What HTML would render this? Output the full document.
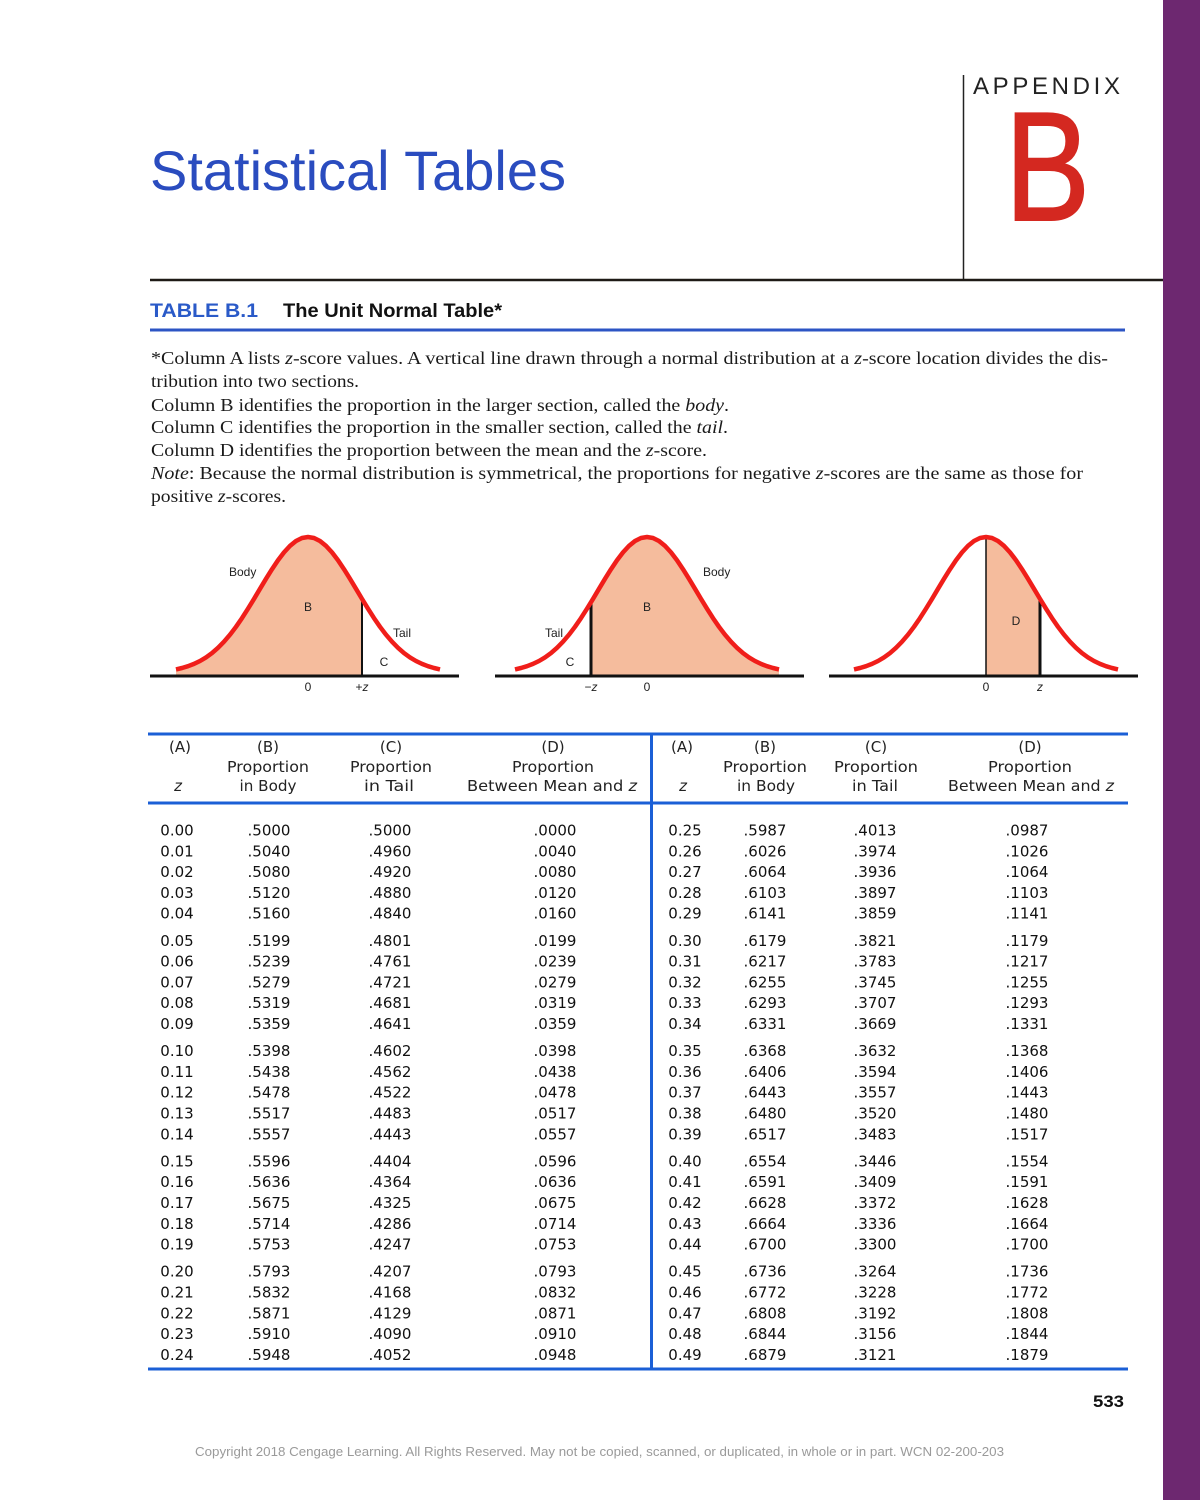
<!DOCTYPE html>
<html><head><meta charset="utf-8"><style>
html,body{margin:0;padding:0;background:#fff;}
svg{display:block;}
.t{font-family:"DejaVu Sans","Liberation Sans",sans-serif;font-size:15px;fill:#111;}
.h{font-family:"DejaVu Sans","Liberation Sans",sans-serif;font-size:15px;fill:#222;text-anchor:middle;}
.p{font-family:"Liberation Serif",serif;font-size:18px;fill:#1a1a1a;}
.lb{font-family:"Liberation Sans",sans-serif;font-size:12px;fill:#222;}
</style></head><body>
<svg width="1200" height="1500" viewBox="0 0 1200 1500" xmlns="http://www.w3.org/2000/svg">
<rect x="0" y="0" width="1200" height="1500" fill="#fff"/>
<rect x="1163" y="0" width="37" height="1500" fill="#6d2870"/>

<!-- Header -->
<text x="150" y="190" font-family="Liberation Sans, sans-serif" font-size="56" fill="#2a4cbf" textLength="416" lengthAdjust="spacingAndGlyphs">Statistical Tables</text>
<line x1="963.5" y1="75" x2="963.5" y2="280" stroke="#222" stroke-width="1.5"/>
<text x="973" y="94" font-family="Liberation Sans, sans-serif" font-size="24" fill="#222" textLength="147" lengthAdjust="spacing">APPENDIX</text>
<text x="1005" y="220" font-family="Liberation Sans, sans-serif" font-size="155" fill="#d42820" stroke="#d42820" stroke-width="2" textLength="85" lengthAdjust="spacingAndGlyphs">B</text>
<line x1="150" y1="280" x2="1163" y2="280" stroke="#1e1a16" stroke-width="2.5"/>

<text x="150" y="317" font-family="Liberation Sans, sans-serif" font-size="19" font-weight="bold" fill="#2a5ac8" textLength="108" lengthAdjust="spacingAndGlyphs">TABLE B.1</text>
<text x="283" y="317" font-family="Liberation Sans, sans-serif" font-size="19" font-weight="bold" fill="#111" textLength="219" lengthAdjust="spacingAndGlyphs">The Unit Normal Table*</text>
<line x1="150" y1="330" x2="1125" y2="330" stroke="#2c55c4" stroke-width="3"/>

<!-- Paragraph -->
<text class="p" x="151" y="364" textLength="957" lengthAdjust="spacingAndGlyphs">*Column A lists <tspan font-style="italic">z</tspan>-score values. A vertical line drawn through a normal distribution at a <tspan font-style="italic">z</tspan>-score location divides the dis-</text>
<text class="p" x="151" y="387" textLength="208" lengthAdjust="spacingAndGlyphs">tribution into two sections.</text>
<text class="p" x="151" y="411" textLength="578" lengthAdjust="spacingAndGlyphs">Column B identifies the proportion in the larger section, called the <tspan font-style="italic">body</tspan>.</text>
<text class="p" x="151" y="433" textLength="577" lengthAdjust="spacingAndGlyphs">Column C identifies the proportion in the smaller section, called the <tspan font-style="italic">tail</tspan>.</text>
<text class="p" x="151" y="456" textLength="556" lengthAdjust="spacingAndGlyphs">Column D identifies the proportion between the mean and the <tspan font-style="italic">z</tspan>-score.</text>
<text class="p" x="151" y="479" textLength="932" lengthAdjust="spacingAndGlyphs"><tspan font-style="italic">Note</tspan>:  Because the normal distribution is symmetrical, the proportions for negative <tspan font-style="italic">z</tspan>-scores are the same as those for</text>
<text class="p" x="151" y="502" textLength="135" lengthAdjust="spacingAndGlyphs">positive <tspan font-style="italic">z</tspan>-scores.</text>

<!-- Curves -->
<defs>
<path id="curve" d="M-132,669.4 L-126,668 L-120,666.2 L-114,663.9 L-108,661 L-102,657.4 L-96,653.1 L-90,647.8 L-84,641.7 L-78,634.7 L-72,626.8 L-66,618.1 L-60,608.7 L-54,598.9 L-48,588.8 L-42,578.8 L-36,569.2 L-30,560.2 L-24,552.4 L-18,545.9 L-12,541 L-6,538 L0,537 L6,538 L12,541 L18,545.9 L24,552.4 L30,560.2 L36,569.2 L42,578.8 L48,588.8 L54,598.9 L60,608.7 L66,618.1 L72,626.8 L78,634.7 L84,641.7 L90,647.8 L96,653.1 L102,657.4 L108,661 L114,663.9 L120,666.2 L126,668 L132,669.4"/>
</defs>

<!-- Panel 1 -->
<g transform="translate(308,0)">
<path d="M-132,676 L-132,669.4 L-126,668 L-120,666.2 L-114,663.9 L-108,661 L-102,657.4 L-96,653.1 L-90,647.8 L-84,641.7 L-78,634.7 L-72,626.8 L-66,618.1 L-60,608.7 L-54,598.9 L-48,588.8 L-42,578.8 L-36,569.2 L-30,560.2 L-24,552.4 L-18,545.9 L-12,541 L-6,538 L0,537 L6,538 L12,541 L18,545.9 L24,552.4 L30,560.2 L36,569.2 L42,578.8 L48,588.8 L54,598.9 L54,676 Z" fill="#f5bc9d"/>
<line x1="54" y1="600" x2="54" y2="676" stroke="#111" stroke-width="2"/>
<use href="#curve" fill="none" stroke="#f01e1a" stroke-width="4.5" stroke-linejoin="round"/>
</g>
<line x1="150" y1="676" x2="459" y2="676" stroke="#111" stroke-width="3"/>
<text class="lb" x="229" y="576">Body</text>
<text class="lb" x="308" y="611" text-anchor="middle" font-size="11">B</text>
<text class="lb" x="393" y="637">Tail</text>
<text class="lb" x="384" y="666" text-anchor="middle">C</text>
<text class="lb" x="308" y="691" text-anchor="middle" font-size="11">0</text>
<text class="lb" x="362" y="691" text-anchor="middle" font-size="11">+<tspan font-style="italic">z</tspan></text>

<!-- Panel 2 -->
<g transform="translate(647,0)">
<path d="M-56,676 L-56,602.2 L-54,598.9 L-48,588.8 L-42,578.8 L-36,569.2 L-30,560.2 L-24,552.4 L-18,545.9 L-12,541 L-6,538 L0,537 L6,538 L12,541 L18,545.9 L24,552.4 L30,560.2 L36,569.2 L42,578.8 L48,588.8 L54,598.9 L60,608.7 L66,618.1 L72,626.8 L78,634.7 L84,641.7 L90,647.8 L96,653.1 L102,657.4 L108,661 L114,663.9 L120,666.2 L126,668 L132,669.4 L132,676 Z" fill="#f5bc9d"/>
<line x1="-56" y1="603" x2="-56" y2="676" stroke="#111" stroke-width="3"/>
<use href="#curve" fill="none" stroke="#f01e1a" stroke-width="4.5" stroke-linejoin="round"/>
</g>
<line x1="495" y1="676" x2="804" y2="676" stroke="#111" stroke-width="3"/>
<text class="lb" x="545" y="637">Tail</text>
<text class="lb" x="570" y="666" text-anchor="middle">C</text>
<text class="lb" x="703" y="576">Body</text>
<text class="lb" x="647" y="611" text-anchor="middle" font-size="11">B</text>
<text class="lb" x="591" y="691" text-anchor="middle" font-size="11">−<tspan font-style="italic">z</tspan></text>
<text class="lb" x="647" y="691" text-anchor="middle" font-size="11">0</text>

<!-- Panel 3 -->
<g transform="translate(986,0)">
<path d="M0,676 L0,537 L6,538 L12,541 L18,545.9 L24,552.4 L30,560.2 L36,569.2 L42,578.8 L48,588.8 L54,598.9 L54,676 Z" fill="#f5bc9d"/>
<line x1="0" y1="538" x2="0" y2="676" stroke="#111" stroke-width="1.5"/>
<line x1="54" y1="600" x2="54" y2="676" stroke="#111" stroke-width="3"/>
<use href="#curve" fill="none" stroke="#f01e1a" stroke-width="4.5" stroke-linejoin="round"/>
</g>
<line x1="829" y1="676" x2="1138" y2="676" stroke="#111" stroke-width="3"/>
<text class="lb" x="1016" y="625" text-anchor="middle">D</text>
<text class="lb" x="986" y="691" text-anchor="middle" font-size="11">0</text>
<text class="lb" x="1040" y="691" text-anchor="middle" font-size="11" font-style="italic">z</text>

<!-- Table lines -->
<line x1="148" y1="734" x2="1128" y2="734" stroke="#1b5fd6" stroke-width="3"/>
<line x1="148" y1="803" x2="1128" y2="803" stroke="#1b5fd6" stroke-width="3"/>
<line x1="148" y1="1369" x2="1128" y2="1369" stroke="#1b5fd6" stroke-width="3"/>
<line x1="651.5" y1="733" x2="651.5" y2="1370" stroke="#1b5fd6" stroke-width="3"/>

<!-- Table header -->
<text class="h" y="752"><tspan x="180">(A)</tspan><tspan x="268">(B)</tspan><tspan x="391">(C)</tspan><tspan x="553">(D)</tspan><tspan x="682">(A)</tspan><tspan x="765">(B)</tspan><tspan x="876">(C)</tspan><tspan x="1030">(D)</tspan></text>
<text class="h" x="268" y="772" textLength="82" lengthAdjust="spacingAndGlyphs">Proportion</text>
<text class="h" x="391" y="772" textLength="82" lengthAdjust="spacingAndGlyphs">Proportion</text>
<text class="h" x="553" y="772" textLength="82" lengthAdjust="spacingAndGlyphs">Proportion</text>
<text class="h" x="765" y="772" textLength="84" lengthAdjust="spacingAndGlyphs">Proportion</text>
<text class="h" x="876" y="772" textLength="84" lengthAdjust="spacingAndGlyphs">Proportion</text>
<text class="h" x="1030" y="772" textLength="84" lengthAdjust="spacingAndGlyphs">Proportion</text>
<text class="h" x="178" y="791" font-style="italic">z</text>
<text class="h" x="268" y="791" textLength="57" lengthAdjust="spacingAndGlyphs">in Body</text>
<text class="h" x="389" y="791" textLength="50" lengthAdjust="spacingAndGlyphs">in Tail</text>
<text class="h" x="552" y="791" textLength="170" lengthAdjust="spacingAndGlyphs">Between Mean and <tspan font-style="italic">z</tspan></text>
<text class="h" x="683" y="791" font-style="italic">z</text>
<text class="h" x="766" y="791" textLength="58" lengthAdjust="spacingAndGlyphs">in Body</text>
<text class="h" x="875" y="791" textLength="46" lengthAdjust="spacingAndGlyphs">in Tail</text>
<text class="h" x="1031" y="791" textLength="166" lengthAdjust="spacingAndGlyphs">Between Mean and <tspan font-style="italic">z</tspan></text>

<!-- Table data -->
<g class="t" text-anchor="middle">
<text y="835.5"><tspan x="177">0.00</tspan><tspan x="269">.5000</tspan><tspan x="390">.5000</tspan><tspan x="555">.0000</tspan><tspan x="685">0.25</tspan><tspan x="765">.5987</tspan><tspan x="875">.4013</tspan><tspan x="1027">.0987</tspan></text>
<text y="856.3"><tspan x="177">0.01</tspan><tspan x="269">.5040</tspan><tspan x="390">.4960</tspan><tspan x="555">.0040</tspan><tspan x="685">0.26</tspan><tspan x="765">.6026</tspan><tspan x="875">.3974</tspan><tspan x="1027">.1026</tspan></text>
<text y="877.1"><tspan x="177">0.02</tspan><tspan x="269">.5080</tspan><tspan x="390">.4920</tspan><tspan x="555">.0080</tspan><tspan x="685">0.27</tspan><tspan x="765">.6064</tspan><tspan x="875">.3936</tspan><tspan x="1027">.1064</tspan></text>
<text y="897.9"><tspan x="177">0.03</tspan><tspan x="269">.5120</tspan><tspan x="390">.4880</tspan><tspan x="555">.0120</tspan><tspan x="685">0.28</tspan><tspan x="765">.6103</tspan><tspan x="875">.3897</tspan><tspan x="1027">.1103</tspan></text>
<text y="918.7"><tspan x="177">0.04</tspan><tspan x="269">.5160</tspan><tspan x="390">.4840</tspan><tspan x="555">.0160</tspan><tspan x="685">0.29</tspan><tspan x="765">.6141</tspan><tspan x="875">.3859</tspan><tspan x="1027">.1141</tspan></text>

<text y="945.8"><tspan x="177">0.05</tspan><tspan x="269">.5199</tspan><tspan x="390">.4801</tspan><tspan x="555">.0199</tspan><tspan x="685">0.30</tspan><tspan x="765">.6179</tspan><tspan x="875">.3821</tspan><tspan x="1027">.1179</tspan></text>
<text y="966.6"><tspan x="177">0.06</tspan><tspan x="269">.5239</tspan><tspan x="390">.4761</tspan><tspan x="555">.0239</tspan><tspan x="685">0.31</tspan><tspan x="765">.6217</tspan><tspan x="875">.3783</tspan><tspan x="1027">.1217</tspan></text>
<text y="987.4"><tspan x="177">0.07</tspan><tspan x="269">.5279</tspan><tspan x="390">.4721</tspan><tspan x="555">.0279</tspan><tspan x="685">0.32</tspan><tspan x="765">.6255</tspan><tspan x="875">.3745</tspan><tspan x="1027">.1255</tspan></text>
<text y="1008.2"><tspan x="177">0.08</tspan><tspan x="269">.5319</tspan><tspan x="390">.4681</tspan><tspan x="555">.0319</tspan><tspan x="685">0.33</tspan><tspan x="765">.6293</tspan><tspan x="875">.3707</tspan><tspan x="1027">.1293</tspan></text>
<text y="1029"><tspan x="177">0.09</tspan><tspan x="269">.5359</tspan><tspan x="390">.4641</tspan><tspan x="555">.0359</tspan><tspan x="685">0.34</tspan><tspan x="765">.6331</tspan><tspan x="875">.3669</tspan><tspan x="1027">.1331</tspan></text>

<text y="1056.1"><tspan x="177">0.10</tspan><tspan x="269">.5398</tspan><tspan x="390">.4602</tspan><tspan x="555">.0398</tspan><tspan x="685">0.35</tspan><tspan x="765">.6368</tspan><tspan x="875">.3632</tspan><tspan x="1027">.1368</tspan></text>
<text y="1076.9"><tspan x="177">0.11</tspan><tspan x="269">.5438</tspan><tspan x="390">.4562</tspan><tspan x="555">.0438</tspan><tspan x="685">0.36</tspan><tspan x="765">.6406</tspan><tspan x="875">.3594</tspan><tspan x="1027">.1406</tspan></text>
<text y="1097.7"><tspan x="177">0.12</tspan><tspan x="269">.5478</tspan><tspan x="390">.4522</tspan><tspan x="555">.0478</tspan><tspan x="685">0.37</tspan><tspan x="765">.6443</tspan><tspan x="875">.3557</tspan><tspan x="1027">.1443</tspan></text>
<text y="1118.5"><tspan x="177">0.13</tspan><tspan x="269">.5517</tspan><tspan x="390">.4483</tspan><tspan x="555">.0517</tspan><tspan x="685">0.38</tspan><tspan x="765">.6480</tspan><tspan x="875">.3520</tspan><tspan x="1027">.1480</tspan></text>
<text y="1139.3"><tspan x="177">0.14</tspan><tspan x="269">.5557</tspan><tspan x="390">.4443</tspan><tspan x="555">.0557</tspan><tspan x="685">0.39</tspan><tspan x="765">.6517</tspan><tspan x="875">.3483</tspan><tspan x="1027">.1517</tspan></text>

<text y="1166.4"><tspan x="177">0.15</tspan><tspan x="269">.5596</tspan><tspan x="390">.4404</tspan><tspan x="555">.0596</tspan><tspan x="685">0.40</tspan><tspan x="765">.6554</tspan><tspan x="875">.3446</tspan><tspan x="1027">.1554</tspan></text>
<text y="1187.2"><tspan x="177">0.16</tspan><tspan x="269">.5636</tspan><tspan x="390">.4364</tspan><tspan x="555">.0636</tspan><tspan x="685">0.41</tspan><tspan x="765">.6591</tspan><tspan x="875">.3409</tspan><tspan x="1027">.1591</tspan></text>
<text y="1208"><tspan x="177">0.17</tspan><tspan x="269">.5675</tspan><tspan x="390">.4325</tspan><tspan x="555">.0675</tspan><tspan x="685">0.42</tspan><tspan x="765">.6628</tspan><tspan x="875">.3372</tspan><tspan x="1027">.1628</tspan></text>
<text y="1228.8"><tspan x="177">0.18</tspan><tspan x="269">.5714</tspan><tspan x="390">.4286</tspan><tspan x="555">.0714</tspan><tspan x="685">0.43</tspan><tspan x="765">.6664</tspan><tspan x="875">.3336</tspan><tspan x="1027">.1664</tspan></text>
<text y="1249.6"><tspan x="177">0.19</tspan><tspan x="269">.5753</tspan><tspan x="390">.4247</tspan><tspan x="555">.0753</tspan><tspan x="685">0.44</tspan><tspan x="765">.6700</tspan><tspan x="875">.3300</tspan><tspan x="1027">.1700</tspan></text>

<text y="1276.7"><tspan x="177">0.20</tspan><tspan x="269">.5793</tspan><tspan x="390">.4207</tspan><tspan x="555">.0793</tspan><tspan x="685">0.45</tspan><tspan x="765">.6736</tspan><tspan x="875">.3264</tspan><tspan x="1027">.1736</tspan></text>
<text y="1297.5"><tspan x="177">0.21</tspan><tspan x="269">.5832</tspan><tspan x="390">.4168</tspan><tspan x="555">.0832</tspan><tspan x="685">0.46</tspan><tspan x="765">.6772</tspan><tspan x="875">.3228</tspan><tspan x="1027">.1772</tspan></text>
<text y="1318.3"><tspan x="177">0.22</tspan><tspan x="269">.5871</tspan><tspan x="390">.4129</tspan><tspan x="555">.0871</tspan><tspan x="685">0.47</tspan><tspan x="765">.6808</tspan><tspan x="875">.3192</tspan><tspan x="1027">.1808</tspan></text>
<text y="1339.1"><tspan x="177">0.23</tspan><tspan x="269">.5910</tspan><tspan x="390">.4090</tspan><tspan x="555">.0910</tspan><tspan x="685">0.48</tspan><tspan x="765">.6844</tspan><tspan x="875">.3156</tspan><tspan x="1027">.1844</tspan></text>
<text y="1359.9"><tspan x="177">0.24</tspan><tspan x="269">.5948</tspan><tspan x="390">.4052</tspan><tspan x="555">.0948</tspan><tspan x="685">0.49</tspan><tspan x="765">.6879</tspan><tspan x="875">.3121</tspan><tspan x="1027">.1879</tspan></text>
</g>

<!-- Page number & footer -->
<text x="1093" y="1407" font-family="Liberation Sans, sans-serif" font-size="17" font-weight="bold" fill="#111" textLength="31" lengthAdjust="spacingAndGlyphs">533</text>
<text x="195" y="1456" font-family="Liberation Sans, sans-serif" font-size="12.5" fill="#9a9a9a" textLength="809" lengthAdjust="spacingAndGlyphs">Copyright 2018 Cengage Learning. All Rights Reserved. May not be copied, scanned, or duplicated, in whole or in part.  WCN 02-200-203</text>
</svg>
</body></html>
